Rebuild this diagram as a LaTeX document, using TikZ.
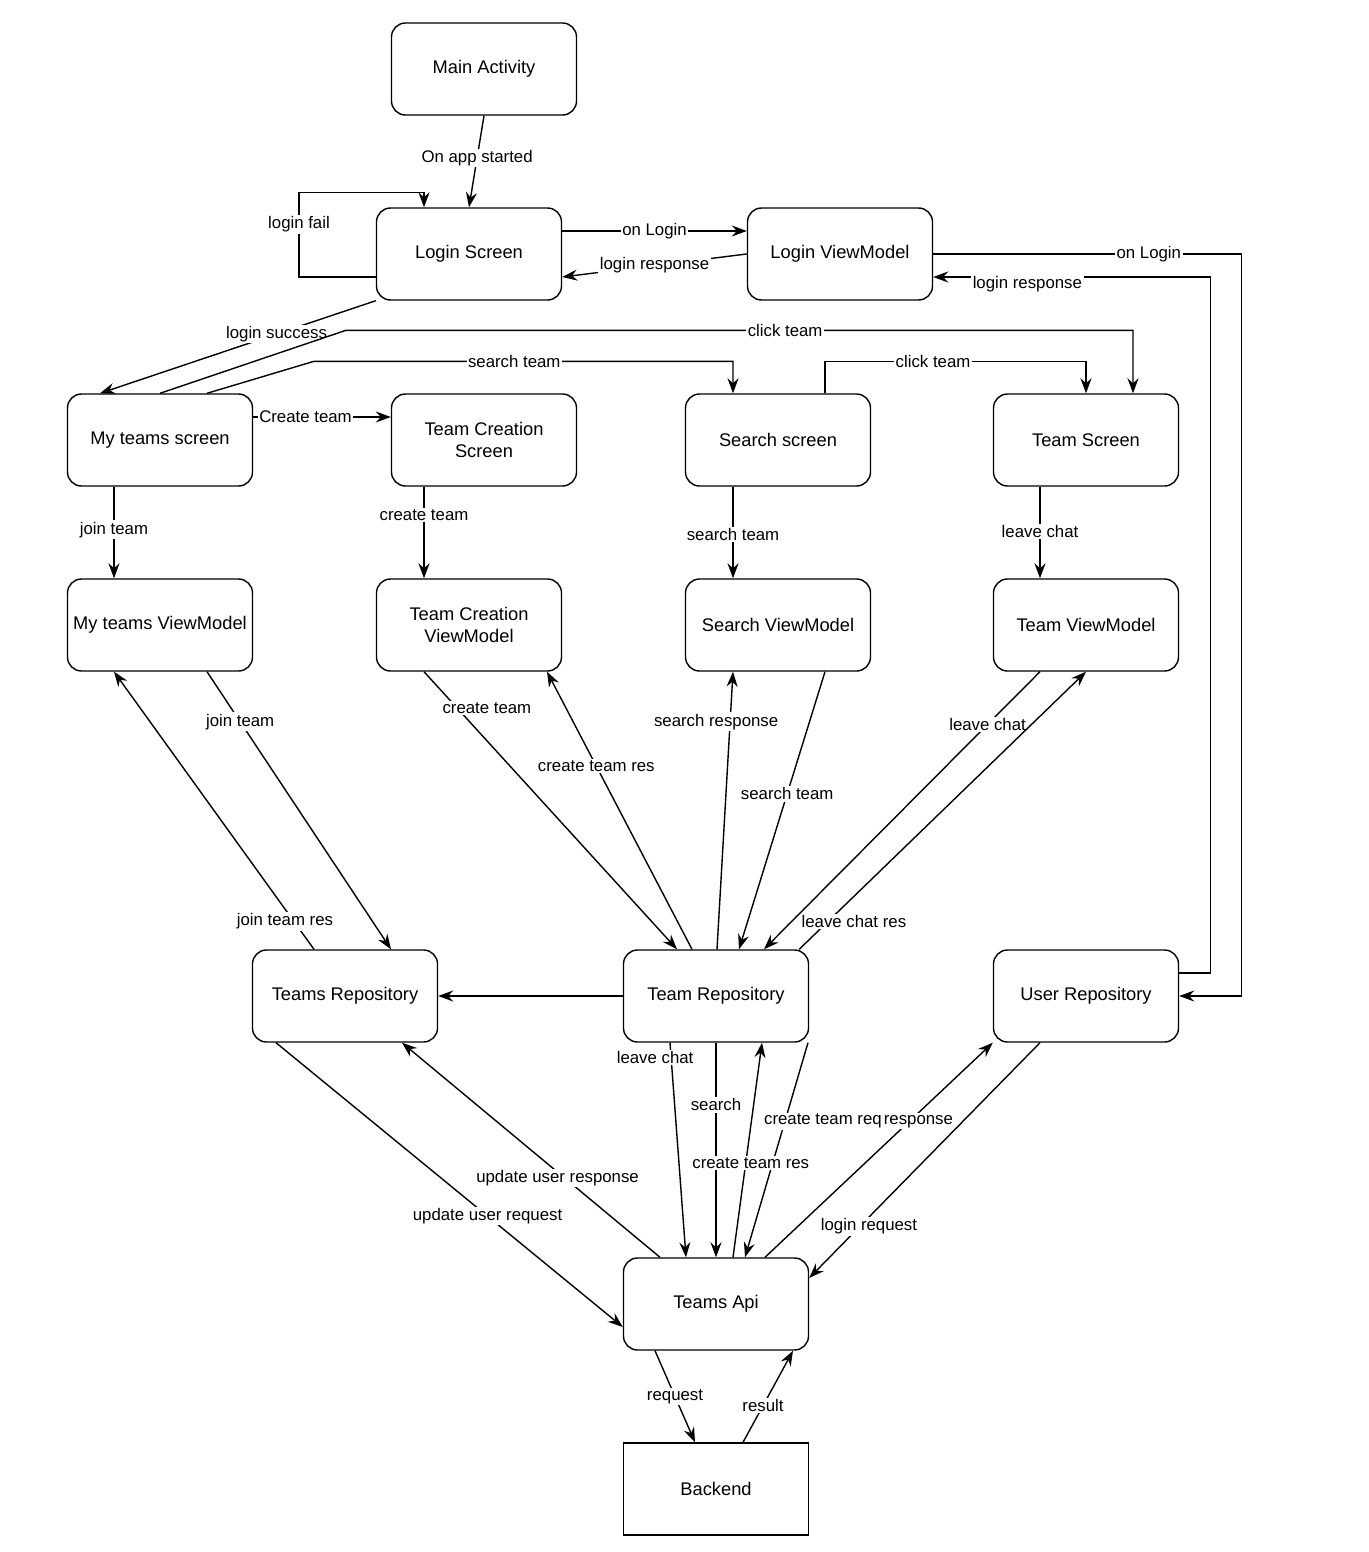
\documentclass[tikz,border=0pt]{standalone}
\usepackage{fontspec}
\setmainfont{Liberation Sans}
\usetikzlibrary{arrows.meta}

\begin{document}
\begin{tikzpicture}[x=1pt,y=-1pt,
	box/.style={draw, rounded corners=14pt, line width=1.4pt, minimum width=185pt, minimum height=92pt, align=center, font=\fontsize{18.3}{22}\selectfont},
	lbl/.style={fill=white, inner sep=1.5pt, font=\fontsize{16.8}{19}\selectfont},
	arr/.style={-{Stealth[length=15pt,width=11pt,inset=5pt]}, line width=1.4pt}]
	\useasboundingbox (0,0) rectangle (1368,1552);

	\node[box] (ma) at (484,69) {Main Activity};
	\node[box] (ls) at (469,254) {Login Screen};
	\node[box] (lvm) at (840,254) {Login ViewModel};
	\node[box] (mts) at (160,440) {My teams screen};
	\node[box] (tcs) at (484,440) {Team Creation\\Screen};
	\node[box] (ss) at (778,440) {Search screen};
	\node[box] (ts) at (1086,440) {Team Screen};
	\node[box] (mtvm) at (160,625) {My teams ViewModel};
	\node[box] (tcvm) at (469,625) {Team Creation\\ViewModel};
	\node[box] (svm) at (778,625) {Search ViewModel};
	\node[box] (tvm) at (1086,625) {Team ViewModel};
	\node[box] (tsr) at (345,996) {Teams Repository};
	\node[box] (tr) at (716,996) {Team Repository};
	\node[box] (ur) at (1086,996) {User Repository};
	\node[box] (api) at (716,1304) {Teams Api};
	\node[box, sharp corners] (be) at (716,1489) {Backend};

	% main activity
	\draw[arr] (ma.south) -- node[pos=0.46,lbl]{On app started} (ls.north);
	% login screen
	\draw[arr] ([yshift=-23pt]ls.west) -| node[pos=0.81,lbl]{login fail} ([xshift=-170pt,yshift=15pt]ls.north) -| ([xshift=-45pt]ls.north);
	\draw[arr] ([yshift=23pt]ls.east) -- node[pos=0.5,lbl]{on Login} ([yshift=23pt]lvm.west);
	\draw[arr] (ls.south west) -- node[pos=0.36,lbl]{login success} ([xshift=-60pt]mts.north);
	% login viewmodel
	\draw[arr] (lvm.west) -- node[pos=0.5,lbl]{login response} ([yshift=-23pt]ls.east);
	\draw[arr] (lvm.east) -- node[pos=0.7,lbl]{on Login} ++(308,0) |- (ur.east);
	% my teams screen
	\draw[arr] (mts.north) -- ++(186,-63) -| node[pos=0.279,lbl]{click team} ([xshift=47pt]ts.north);
	\draw[arr] ([xshift=47pt]mts.north) -- ++(107,-32) -| node[pos=0.239,lbl]{search team} ([xshift=-45pt]ss.north);
	\draw[arr] ([yshift=23pt]mts.east) -- node[pos=0.38,lbl]{Create team} ([yshift=23pt]tcs.west);
	\draw[arr] ([xshift=-46pt]mts.south) -- node[pos=0.47,lbl]{join team} ([xshift=-46pt]mtvm.north);
	% screens
	\draw[arr] ([xshift=-60pt]tcs.south) -- node[pos=0.31,lbl]{create team} ([xshift=-45pt]tcvm.north);
	\draw[arr] ([xshift=47pt]ss.north) -- ++(0,-32) -| node[pos=0.207,lbl]{click team} (ts.north);
	\draw[arr] ([xshift=-45pt]ss.south) -- node[pos=0.52,lbl]{search team} ([xshift=-45pt]svm.north);
	\draw[arr] ([xshift=-46pt]ts.south) -- node[pos=0.49,lbl]{leave chat} ([xshift=-46pt]tvm.north);
	% viewmodels
	\draw[arr] ([xshift=47pt]mtvm.south) -- node[pos=0.18,lbl]{join team} ([xshift=46pt]tsr.north);
	\draw[arr] ([xshift=-31pt]tsr.north) -- node[pos=0.1,lbl,xshift=-9pt]{join team res} ([xshift=-46pt]mtvm.south);
	\draw[arr] ([xshift=-45pt]tcvm.south) -- node[pos=0.13,lbl,xshift=30pt]{create team} ([xshift=-39pt]tr.north);
	\draw[arr] ([xshift=-24pt]tr.north) -- node[pos=0.66,lbl]{create team res} ([xshift=78pt]tcvm.south);
	\draw[arr] ([xshift=1pt]tr.north) -- node[pos=0.82,lbl,xshift=-14pt]{search response} ([xshift=-45pt]svm.south);
	\draw[arr] ([xshift=47pt]svm.south) -- node[pos=0.44,lbl]{search team} ([xshift=23pt]tr.north);
	\draw[arr] ([xshift=-46pt]tvm.south) -- node[pos=0.19,lbl]{leave chat} ([xshift=48pt]tr.north);
	\draw[arr] ([xshift=-10pt]tr.north east) -- node[pos=0.1,lbl,xshift=26pt]{leave chat res} (tvm.south);
	% repositories
	\draw[arr] (tr.west) -- (tsr.east);
	\draw[arr] ([yshift=23pt]ur.east) -- ++(31,0) |- node[pos=0.83,lbl,yshift=-7pt]{login response} ([yshift=-23pt]lvm.east);
	\draw[arr] ([xshift=-69pt]tsr.south) -- node[pos=0.61,lbl]{update user request} ([yshift=-23pt]api.west);
	\draw[arr] ([xshift=-46pt]tr.south) -- node[pos=0.07,lbl,xshift=-16pt]{leave chat} ([xshift=-30pt]api.north);
	\draw[arr] (tr.south) -- node[pos=0.29,lbl]{search} (api.north);
	\draw[arr] ([xshift=92pt]tr.south) -- node[pos=0.366,lbl,xshift=38pt]{create team req} ([xshift=29pt]api.north);
	\draw[arr] ([xshift=-46pt]ur.south) -- node[pos=0.78,lbl,xshift=9pt]{login request} ([yshift=26pt]api.east);
	% teams api
	\draw[arr] ([xshift=-56pt]api.north) -- node[pos=0.37,lbl,xshift=-7pt]{update user response} ([xshift=57pt]tsr.south);
	\draw[arr] ([xshift=17pt]api.north) -- node[pos=0.44,lbl,xshift=5pt]{create team res} ([xshift=46pt]tr.south);
	\draw[arr] ([xshift=49pt]api.north) -- node[pos=0.634,lbl,xshift=9pt]{response} (ur.south west);
	\draw[arr] ([xshift=-61pt]api.south) -- node[pos=0.5,lbl]{request} ([xshift=-21pt]be.north);
	% backend
	\draw[arr] ([xshift=27pt]be.north) -- node[pos=0.4,lbl]{result} ([xshift=77pt]api.south);
\end{tikzpicture}
\end{document}
